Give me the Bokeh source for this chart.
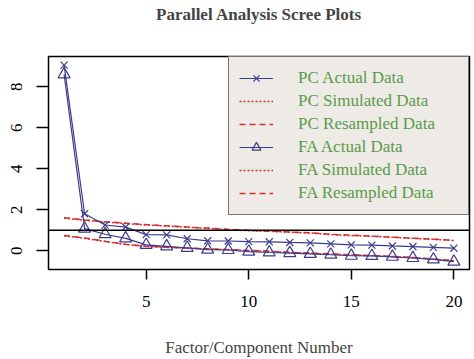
from bokeh.plotting import figure
from bokeh.models import Range1d, Span, Legend, LegendItem, FixedTicker, Title
from bokeh.embed import file_html
from bokeh.resources import INLINE

factor = list(range(1, 21))
pc_actual = [9.05, 1.80, 1.25, 1.15, 0.78, 0.77, 0.58, 0.48, 0.47, 0.44,
             0.43, 0.40, 0.38, 0.33, 0.28, 0.27, 0.23, 0.20, 0.16, 0.12]
fa_actual = [8.60, 1.07, 0.80, 0.60, 0.28, 0.21, 0.13, 0.05, 0.03, -0.05,
             -0.09, -0.12, -0.16, -0.20, -0.25, -0.26, -0.30, -0.36, -0.43, -0.54]
pc_simulated = [1.59, 1.48, 1.40, 1.32, 1.25, 1.20, 1.14, 1.09, 1.02, 0.97,
                0.94, 0.90, 0.86, 0.78, 0.73, 0.70, 0.65, 0.60, 0.55, 0.49]
pc_resampled = [1.61, 1.50, 1.41, 1.34, 1.27, 1.21, 1.15, 1.10, 1.04, 0.99,
                0.95, 0.91, 0.87, 0.80, 0.75, 0.71, 0.66, 0.61, 0.56, 0.50]
fa_simulated = [0.72, 0.60, 0.44, 0.30, 0.20, 0.16, 0.12, 0.08, 0.04, 0.00,
                -0.04, -0.09, -0.13, -0.17, -0.21, -0.25, -0.29, -0.34, -0.42, -0.49]
fa_resampled = [0.74, 0.62, 0.46, 0.31, 0.22, 0.17, 0.13, 0.09, 0.05, 0.01,
                -0.03, -0.08, -0.12, -0.16, -0.20, -0.24, -0.28, -0.33, -0.41, -0.48]
x_ticks = [5, 10, 15, 20]
y_ticks = [0, 2, 4, 6, 8]
threshold = 1

BLUE = "#3c3c8c"
RED = "#d92b2b"
SERIF = "Liberation Serif"

p = figure(width=472, height=359, output_backend="svg", toolbar_location=None,
           x_range=Range1d(0.24, 20.76), y_range=Range1d(-0.92, 9.47),
           min_border_left=48, min_border_right=3, min_border_top=0,
           min_border_bottom=90)
p.title.text = "Parallel Analysis Scree Plots"
p.title.text_font = SERIF
p.title.text_font_size = "17px"
p.title.text_font_style = "bold"
p.title.align = "center"
p.title.standoff = 4

# empty spacer between the title and the plot box
p.add_layout(Title(text=" ", text_font_size="17px", standoff=10), "above")

p.grid.visible = False
p.outline_line_color = "black"
p.outline_line_width = 1.5
p.background_fill_color = "white"
p.border_fill_color = "white"

for ax in (p.xaxis[0], p.yaxis[0]):
    ax.axis_line_color = None
    ax.minor_tick_line_color = None
    ax.major_tick_line_color = "black"
    ax.major_tick_line_width = 1.5
    ax.major_tick_in = 0
    ax.major_label_text_font = SERIF
    ax.major_label_text_font_size = "17px"
    ax.major_label_text_color = "black"

p.xaxis.ticker = FixedTicker(ticks=x_ticks)
p.xaxis.major_tick_out = 10
p.xaxis.major_label_standoff = 16
p.xaxis.axis_label = "Factor/Component Number"
p.xaxis.axis_label_text_font = SERIF
p.xaxis.axis_label_text_font_size = "17px"
p.xaxis.axis_label_text_font_style = "normal"
p.xaxis.axis_label_standoff = 28

p.yaxis.ticker = FixedTicker(ticks=y_ticks)
p.yaxis.major_tick_out = 12
p.yaxis.major_label_standoff = 14
p.yaxis.major_label_orientation = "vertical"

p.add_layout(Span(location=threshold, dimension="width", line_color="black", line_width=1.5))

r_pcs = p.line(factor, pc_simulated, line_color=RED, line_width=1.5, line_dash="2 2")
r_pcr = p.line(factor, pc_resampled, line_color=RED, line_width=1.5, line_dash="6 4")
r_fas = p.line(factor, fa_simulated, line_color=RED, line_width=1.5, line_dash="2 2")
r_far = p.line(factor, fa_resampled, line_color=RED, line_width=1.5, line_dash="6 4")

r_pcl = p.line(factor, pc_actual, line_color=BLUE, line_width=1.2)
r_pcm = p.scatter(factor, pc_actual, marker="x", size=10, line_color=BLUE, line_width=1.2)
r_fal = p.line(factor, fa_actual, line_color=BLUE, line_width=1.2)
r_fam = p.scatter(factor, fa_actual, marker="triangle", size=12, line_color=BLUE,
                  fill_color=None, line_width=1.2)

legend = Legend(items=[
    LegendItem(label="PC Actual Data", renderers=[r_pcl, r_pcm]),
    LegendItem(label="PC Simulated Data", renderers=[r_pcs]),
    LegendItem(label="PC Resampled Data", renderers=[r_pcr]),
    LegendItem(label="FA Actual Data", renderers=[r_fal, r_fam]),
    LegendItem(label="FA Simulated Data", renderers=[r_fas]),
    LegendItem(label="FA Resampled Data", renderers=[r_far]),
], location="top_right")
legend.margin = 0
legend.padding = 10
legend.spacing = 1
legend.glyph_width = 34
legend.glyph_height = 22
legend.label_height = 22
legend.label_width = 160
legend.label_standoff = 25
legend.label_text_font = SERIF
legend.label_text_font_size = "17px"
legend.label_text_color = "#5a9a4a"
legend.background_fill_color = "#eeebe6"
legend.background_fill_alpha = 1
legend.border_line_color = "black"
legend.border_line_width = 1.5
p.add_layout(legend)

open("out.html", "w").write(file_html(p, INLINE))
